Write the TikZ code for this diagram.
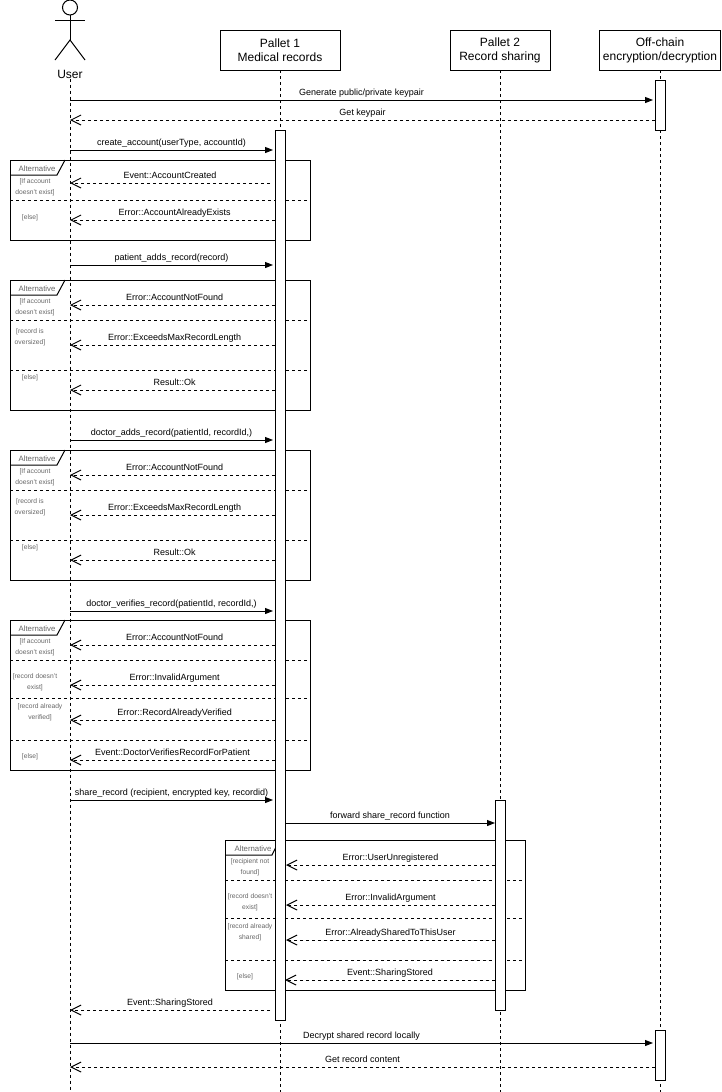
\documentclass[tikz,border=0pt]{standalone}
\usepackage{fontspec}
\setmainfont{Liberation Sans}
\usetikzlibrary{arrows.meta}
\begin{document}
\begin{tikzpicture}[x=1pt,y=-1pt,line width=1pt,
  head/.style={draw,align=center,minimum height=40pt,outer sep=0pt,font=\fontsize{12}{14}\selectfont},
  bar/.style={draw,fill=white,minimum width=10pt,inner sep=0pt,outer sep=0pt},
  life/.style={dashed,dash pattern=on 3pt off 3pt},
  altbox/.style={draw,anchor=north west,inner sep=0pt,outer sep=0pt},
  altsep/.style={dash pattern=on 3pt off 3pt},
  call/.style={-{Triangle[length=8pt,width=6pt]}},
  ret/.style={dash pattern=on 3pt off 3pt,-{Straight Barb[length=10pt,width=10pt]}},
  msg/.style={font=\fontsize{9}{10}\selectfont,inner sep=2.2pt,text height=7pt,text depth=2pt},
  cond/.style={font=\fontsize{6.7}{11.5}\selectfont,text=black!60,align=center,inner sep=0pt,yshift=-1.5pt},
  alttext/.style={font=\fontsize{7.8}{9}\selectfont,text=black!60,inner sep=0pt}]
\path[use as bounding box,fill=white] (0,0) rectangle (721,1092);
\coordinate (bot) at (0,1092);
% alternative frames
\node[altbox,minimum width=300pt,minimum height=80pt] (alt1) at (10,160) {};
\node[altbox,minimum width=300pt,minimum height=130pt] (alt2) at (10,280) {};
\node[altbox,minimum width=300pt,minimum height=130pt] (alt3) at (10,450) {};
\node[altbox,minimum width=300pt,minimum height=150pt] (alt4) at (10,620) {};
\node[altbox,minimum width=300pt,minimum height=150pt] (alt5) at (225,840) {};
\foreach \frm/\y in {alt1/200,alt2/320,alt2/370,alt3/490,alt3/540,alt4/660,alt4/698,alt4/740,alt5/880,alt5/918,alt5/960}
  \draw[altsep] (\frm.west |- 0,\y) -- (\frm.east |- 0,\y);
\foreach \frm/\x in {alt1/10,alt2/10,alt3/10,alt4/10}{
  \node[alttext] (\frm t) at ([xshift=27pt,yshift=-8.5pt]\frm.north west) {Alternative};
  \draw (\frm.north west) ++(0,15) -- ++(47,0) -- ++(8,-15);
}
\node[alttext] (alt5t) at ([xshift=28pt,yshift=-9pt]alt5.north west) {Alternative};
\draw (alt5.north west) ++(0,15) -- ++(47,0) -- ++(4,-8);
% conditions
\foreach \n/\x/\y/\lab in {c1/35/186/{[If account\\doesn't exist]},c2/30/216/{[else]},
  c3/35/306/{[If account\\doesn't exist]},c4/30/336/{[record is\\oversized]},c5/30/376/{[else]},
  c6/35/476/{[If account\\doesn't exist]},c7/30/506/{[record is\\oversized]},c8/30/546/{[else]},
  c9/35/646/{[If account\\doesn't exist]},c10/35/681/{[record doesn't\\exist]},c11/40/711/{[record already\\verified]},c12/30/755/{[else]},
  c13/250/866/{[recipient not\\found]},c14/250/901/{[record doesn't\\exist]},c15/250/931/{[record already\\shared]},c16/245/975/{[else]}}
  \node[cond] (\n) at (\x,\y) {\lab};
% participants
\node[draw,circle,minimum size=15pt,inner sep=0pt,outer sep=0pt] (hd) at (70,7.5) {};
\coordinate (arml) at (55,20);
\coordinate (armr) at (85,20);
\coordinate (hip) at (70,40);
\coordinate (legl) at (55,60);
\coordinate (legr) at (85,60);
\draw (hd.south) -- (hip);
\draw (arml) -- (armr);
\draw (legl) -- (hip) -- (legr);
\node[font=\fontsize{12}{14}\selectfont,inner sep=0pt] (U) at (70,74) {User};
\node[head,minimum width=120pt] (P1) at (280,50) {Pallet 1\\ Medical records};
\node[head,minimum width=100pt] (P2) at (500,50) {Pallet 2\\ Record sharing};
\node[head,minimum width=120pt] (OC) at (660,50) {Off-chain\\ encryption/decryption};
\draw[life] (U.south) -- (U.south |- bot);
\draw[life] (P1) -- (P1 |- bot);
\draw[life] (P2) -- (P2 |- bot);
\draw[life] (OC) -- (OC |- bot);
% activations
\node[bar,minimum height=50pt] (OCa) at (660,105) {};
\node[bar,minimum height=50pt] (OCb) at (660,1055) {};
\node[bar,minimum height=890pt] (P1a) at (280,575) {};
\node[bar,minimum height=210pt] (P2a) at (500,905) {};
% calls
\foreach \n/\xa/\xb/\y/\lab in {m1/70/653/100/{Generate public/private keypair},
  m2/70/273/150/{create\_account(userType, accountId)},
  m3/70/273/265/{patient\_adds\_record(record)},
  m4/70/273/440/{doctor\_adds\_record(patientId, recordId,)},
  m5/70/273/611/{doctor\_verifies\_record(patientId, recordId,)},
  m6/70/273/800/{share\_record (recipient, encrypted key, recordid)},
  m7/285/495/823/{forward share\_record function},
  m8/70/653/1043/{Decrypt shared record locally}}{
  \coordinate (\n s) at (\xa,\y);
  \coordinate (\n e) at (\xb,\y);
  \draw[call] (\n s) -- node[above,msg]{\lab} (\n e);
}
% returns
\foreach \n/\xa/\xb/\y/\p/\lab in {r1/655/70/120/.5/{Get keypair},
  r2/270/70/183/.5/{Event::AccountCreated},r3/275/70/220/.49/{Error::AccountAlreadyExists},
  r4/275/70/305/.49/{Error::AccountNotFound},r5/275/70/345/.49/{Error::ExceedsMaxRecordLength},r6/275/70/390/.49/{Result::Ok},
  r7/275/70/475/.49/{Error::AccountNotFound},r8/275/70/515/.49/{Error::ExceedsMaxRecordLength},r9/275/70/560/.49/{Result::Ok},
  r10/275/70/645/.49/{Error::AccountNotFound},r11/275/70/685/.49/{Error::InvalidArgument},r12/275/70/720/.49/{Error::RecordAlreadyVerified},r13/275/70/760/.5/{Event::DoctorVerifiesRecordForPatient},
  r14/495/286/865/.5/{Error::UserUnregistered},r15/495/286/905/.5/{Error::InvalidArgument},r16/495/286/940/.5/{Error::AlreadySharedToThisUser},r17/495/285/980/.5/{Event::SharingStored},
  r18/270/70/1010/.5/{Event::SharingStored},r19/655/70/1067/.5/{Get record content}}{
  \coordinate (\n s) at (\xa,\y);
  \coordinate (\n e) at (\xb,\y);
  \draw[ret] (\n s) -- node[above,msg,pos=\p]{\lab} (\n e);
}
\end{tikzpicture}
\end{document}
